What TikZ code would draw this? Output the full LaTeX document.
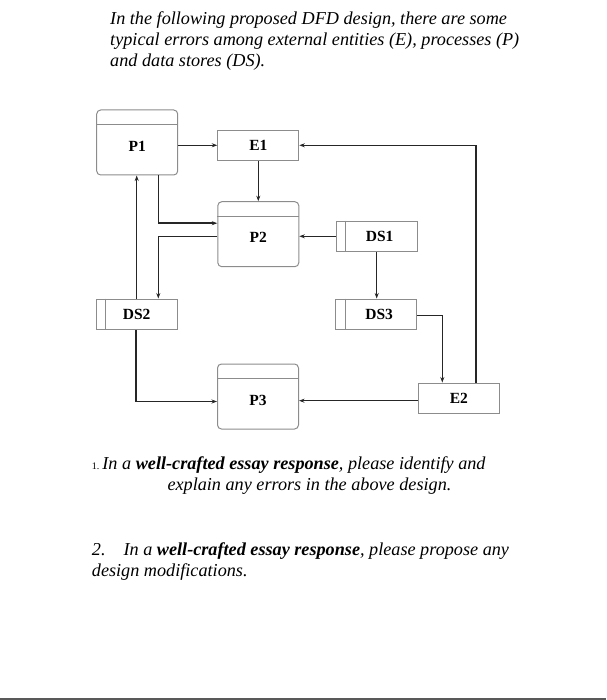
\documentclass[tikz,border=0pt]{standalone}
\usepackage{fontspec}
\setmainfont{Liberation Serif}
\usetikzlibrary{arrows.meta}
\newcommand{\proclabel}[1]{\raisebox{-3.5pt}[\height][\depth]{#1}}
\begin{document}
\begin{tikzpicture}[x=1pt, y=-1pt,
    >={Stealth[length=5.5pt,width=4pt]},
    flow/.style={->, draw=black!85, line width=1.4pt},
    proc/.style={draw=black!45, line width=1pt, rounded corners=4pt, minimum width=81pt, minimum height=65pt, font=\fontsize{15.5}{17}\selectfont\bfseries},
    entity/.style={draw=black!45, line width=1pt, minimum width=81pt, minimum height=30.5pt, font=\fontsize{15.5}{17}\selectfont\bfseries},
    store/.style={entity},
    para/.style={anchor=base west, align=left, inner sep=0pt, font=\fontsize{18.2}{21}\selectfont\itshape}]
    \useasboundingbox (0,0) rectangle (606,700);

    % Text above the diagram
    \node[para] (intro) at (110,67) {In the following proposed DFD design, there are some\\typical errors among external entities (E), processes (P)\\and data stores (DS).};

    % Processes, entities and data stores
    \node[proc] (P1) at (137.2,142.5) {\proclabel{P1}};
    \node[entity] (E1) at (258.3,145.3) {E1};
    \node[proc] (P2) at (258.3,234.2) {\proclabel{P2}};
    \node[store] (DS1) at (376.7,236.3) {\hspace{6pt}DS1};
    \node[store] (DS2) at (136.7,314.3) {DS2};
    \node[store] (DS3) at (376.2,314.3) {\hspace{6pt}DS3};
    \node[proc] (P3) at (258,396.5) {\proclabel{P3}};
    \node[entity] (E2) at (458.8,398.3) {E2};

    % Headers and side bars
    \foreach \p in {P1,P2,P3}
        \draw[black!45, line width=1pt] ([yshift=-15pt]\p.north west) -- ([yshift=-15pt]\p.north east);
    \foreach \s in {DS1,DS2,DS3}
        \draw[black!45, line width=1pt] ([xshift=10pt]\s.north west) -- ([xshift=10pt]\s.south west);

    % Data flows
    \draw[flow] (P1.east |- E1.west) -- (E1.west);
    \draw[flow] (E1.south) -- (P2.north);
    \draw[flow] ([xshift=21pt]P1.south) |- ([yshift=11pt]P2.west);
    \draw[flow] ([yshift=-2.5pt]P2.west) -| ([xshift=21.6pt]DS2.north);
    \draw[flow] (DS2.north) -- (DS2.north |- P1.south);
    \draw[flow] (DS1.west) -- (DS1.west -| P2.east);
    \draw[flow] (DS1.south) -- (DS1.south |- DS3.north);
    \draw[flow] ([yshift=-1pt]DS3.east) -| ([xshift=-16.5pt]E2.north);
    \draw[flow] ([xshift=17pt]E2.north) |- (E1.east);
    \draw[flow] ([yshift=-2.4pt]E2.west) -- ([yshift=-2.4pt]E2.west -| P3.east);
    \draw[flow] ([xshift=-0.7pt]DS2.south) |- ([yshift=-5pt]P3.west);

    % Questions
    \node[para] (q1) at (91.7,490.7) {{\upshape\fontsize{10}{12}\selectfont 1.}\,In a \textbf{well-crafted essay response}, please identify and\\\hspace*{75.6pt}explain any errors in the above design.};
    \node[para] (q2) at (91.7,576) {2.\hspace{18pt}In a \textbf{well-crafted essay response}, please propose any\\design modifications.};

    \draw[black!65, line width=2pt] (0,699) -- (606,699);
\end{tikzpicture}
\end{document}
